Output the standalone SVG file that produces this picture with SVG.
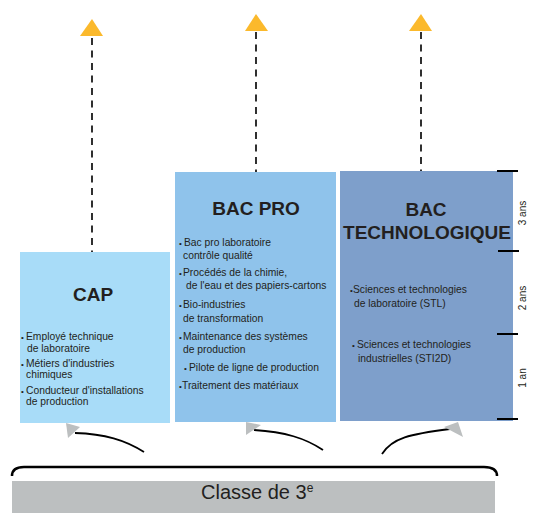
<svg xmlns="http://www.w3.org/2000/svg" width="544" height="525" viewBox="0 0 544 525">
<style>
.title{font-family:"Liberation Sans",Arial,sans-serif;font-weight:bold;font-size:19px;fill:#231f20;text-anchor:middle}
.body{font-family:"Liberation Sans",Arial,sans-serif;font-size:10.3px;fill:#231f20}
.b{font-size:8px}
.yr{font-family:"Liberation Sans",Arial,sans-serif;font-size:10px;fill:#231f20;text-anchor:middle}
.dash{stroke:#1a1a1a;stroke-width:1.8;stroke-dasharray:7,5.5;fill:none}
.tri{fill:#fbb92c}
.curve{stroke:#000;stroke-width:1.8;fill:none}
.head{fill:#bcbfc0}
.tick{stroke:#000;stroke-width:2}
</style>
<rect width="544" height="525" fill="#fff"/>
<g id="connectors">
<line class="dash" x1="92" y1="38" x2="92" y2="252"/>
<polygon class="tri" points="80,36 103,36 92,19"/>
<line class="dash" x1="256" y1="32" x2="256" y2="172"/>
<polygon class="tri" points="245,31 268,31 256,14"/>
<line class="dash" x1="421" y1="32" x2="421" y2="171"/>
<polygon class="tri" points="409,31 432,31 421,14"/>
<path class="curve" d="M144,452 C125,440 105,434 75,433"/>
<polygon class="head" points="66,423 68,438 80,427"/>
<path class="curve" d="M323,450 C305,438 285,432 254,430"/>
<polygon class="head" points="246,422 246,435 261,425"/>
<path class="curve" d="M382,454 C392,438 410,434 450,429"/>
<polygon class="head" points="444,427 458,422 463,437"/>
</g>
<g id="cap">
<rect x="20" y="252" width="150" height="171" fill="#a8dcf8"/>
<text class="title" x="93" y="301">CAP</text>
<text class="body"><tspan class="b" x="21" y="340">•</tspan><tspan x="26" y="340">Employé technique</tspan><tspan x="27" y="352">de laboratoire</tspan><tspan class="b" x="21" y="367">•</tspan><tspan x="26" y="367">Métiers d'industries</tspan><tspan x="26" y="378">chimiques</tspan><tspan class="b" x="21" y="394">•</tspan><tspan x="26" y="394">Conducteur d'installations</tspan><tspan x="26" y="405">de production</tspan></text>
</g>
<g id="bacpro">
<rect x="175" y="172" width="161" height="250" fill="#8fc3eb"/>
<text class="title" x="256" y="215">BAC PRO</text>
<text class="body"><tspan class="b" x="179" y="246">•</tspan><tspan x="184" y="246">Bac pro laboratoire</tspan><tspan x="183" y="259">contrôle qualité</tspan><tspan class="b" x="179" y="276">•</tspan><tspan x="183" y="276">Procédés de la chimie,</tspan><tspan x="186" y="289">de l'eau et des papiers-cartons</tspan><tspan class="b" x="179" y="308">•</tspan><tspan x="183" y="308">Bio-industries</tspan><tspan x="183" y="322">de transformation</tspan><tspan class="b" x="179" y="340">•</tspan><tspan x="183" y="340">Maintenance des systèmes</tspan><tspan x="183" y="353">de production</tspan><tspan class="b" x="184" y="371">•</tspan><tspan x="189" y="371">Pilote de ligne de production</tspan><tspan class="b" x="179" y="389">•</tspan><tspan x="182" y="389">Traitement des matériaux</tspan></text>
</g>
<g id="bactechno">
<rect x="340" y="171" width="173" height="250" fill="#7e9fcb"/>
<text class="title" x="426" y="216">BAC</text>
<text class="title" x="427" y="239">TECHNOLOGIQUE</text>
<text class="body"><tspan class="b" x="350" y="293">•</tspan><tspan x="353" y="293">Sciences et technologies</tspan><tspan x="354" y="307">de laboratoire (STL)</tspan><tspan class="b" x="352" y="348">•</tspan><tspan x="357" y="348">Sciences et technologies</tspan><tspan x="358" y="362">industrielles (STI2D)</tspan></text>
</g>
<g id="scale">
<line class="tick" x1="497" y1="171" x2="518" y2="171"/>
<line class="tick" x1="498" y1="251" x2="519" y2="251"/>
<line class="tick" x1="497" y1="334" x2="518" y2="334"/>
<line class="tick" x1="497" y1="419" x2="518" y2="419"/>
<text class="yr" transform="translate(526,213) rotate(-90)">3 ans</text>
<text class="yr" transform="translate(526,298) rotate(-90)">2 ans</text>
<text class="yr" transform="translate(526,378) rotate(-90)">1 an</text>
</g>
<g id="classe">
<path d="M12,476 C12,470 16,467 24,467 L484,467 C492,467 497,470 497,476" fill="none" stroke="#000" stroke-width="2.5"/>
<rect x="12" y="481" width="483" height="32" fill="#bcbfc0"/>
<text x="201" y="499" font-family="Liberation Sans,Arial,sans-serif" font-size="20" fill="#231f20">Classe de 3<tspan font-size="12" dy="-7">e</tspan></text>
</g>
</svg>
